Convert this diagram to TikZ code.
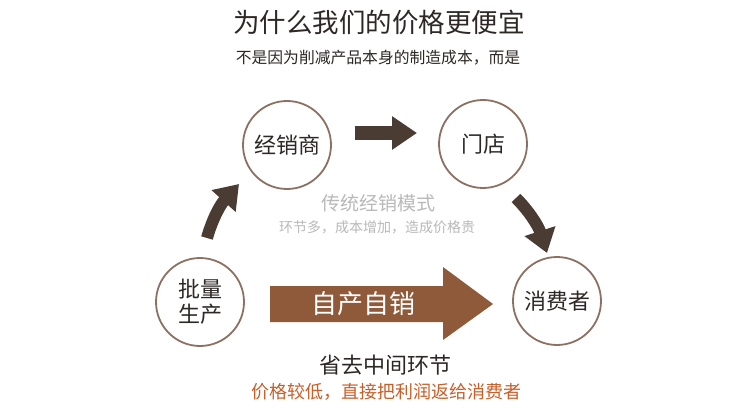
\documentclass[tikz,border=0pt]{standalone}
\usepackage{fontspec}
\newfontfamily\cjk{Noto Sans CJK SC}
\usetikzlibrary{arrows.meta}
\definecolor{ringc}{RGB}{140,112,98}
\definecolor{darkarrow}{RGB}{74,60,50}
\definecolor{bigarrow}{RGB}{142,90,58}
\definecolor{orangetxt}{RGB}{200,95,40}
\definecolor{graytxt}{RGB}{185,185,185}
\definecolor{darktxt}{RGB}{45,40,38}
\tikzset{
  ring/.style={circle, draw=ringc, line width=1.8pt, minimum size=88pt, inner sep=0pt, text=darktxt, font={\cjk\fontsize{22}{25}\selectfont}, align=center},
  bend arrow/.style={draw=darkarrow, line width=12pt, -{Triangle[width=31pt,length=23pt]}},
  txt/.style={inner sep=0pt, font=\cjk}
}
\begin{document}
\begin{tikzpicture}[x=1pt,y=-1pt]
\useasboundingbox (0,0) rectangle (750,417);
\fill[white] (0,0) rectangle (750,417);
% titles
\node[txt, text=darktxt, font={\cjk\fontsize{26.5}{26}\selectfont}] (title) at (379,22) {为什么我们的价格更便宜};
\node[txt, text=darktxt, font={\cjk\fontsize{15.8}{16}\selectfont}] (sub) at (378,58) {不是因为削减产品本身的制造成本，而是};
% circles
\node[ring] (dist) at (287,145) {经销商};
\node[ring] (store) at (483,144) {门店};
\node[ring] (prod) at (200,302) {批量\\生产};
\node[ring] (cons) at (557,301) {消费者};
% middle texts
\node[txt, text=graytxt, font={\cjk\fontsize{19}{20}\selectfont}] (trad) at (378,203) {传统经销模式};
\node[txt, text=graytxt, font={\cjk\fontsize{14}{15}\selectfont}] (tradsub) at (377,227) {环节多，成本增加，造成价格贵};
% arrows between circles
\coordinate (a1s) at (207,238);
\coordinate (a1e) at (239,184);
\draw[bend arrow] (a1s) .. controls (212,220) and (220,205) .. (a1e);
\coordinate (a2s) at (355,133);
\coordinate (a2e) at (417,133);
\draw[draw=darkarrow, line width=14pt, -{Triangle[width=32pt,length=25pt]}] (a2s) -- (a2e);
\coordinate (a3s) at (516,198);
\coordinate (a3e) at (547,253);
\draw[bend arrow] (a3s) .. controls (528,210) and (538,225) .. (a3e);
% big arrow
\fill[bigarrow] (270,286) -- (443,286) -- (443,267) -- (493,304) -- (443,340) -- (443,322) -- (270,322) -- cycle;
\node[txt, text=white, font={\cjk\fontsize{26}{26}\selectfont}] (self) at (363,304) {自产自销};
% bottom texts
\node[txt, text=darktxt, font={\cjk\fontsize{22}{22}\selectfont}] (skip) at (385,365) {省去中间环节};
\node[txt, text=orangetxt, font={\cjk\fontsize{18}{18}\selectfont}] (low) at (386,392) {价格较低，直接把利润返给消费者};
\end{tikzpicture}
\end{document}
